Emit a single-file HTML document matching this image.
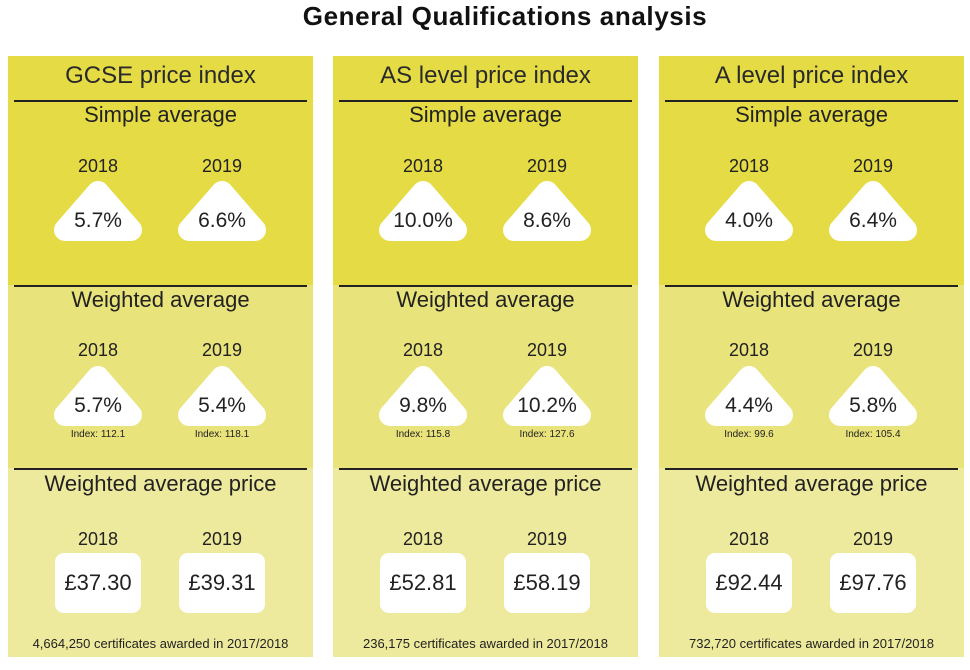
<!DOCTYPE html>
<html><head><meta charset="utf-8">
<style>
body{margin:0;width:970px;height:670px;background:#fff;font-family:"Liberation Sans",sans-serif;color:#222;position:relative;overflow:hidden}
.t{position:absolute;white-space:nowrap;text-align:center}
</style></head>
<body>
<div class="t" style="left:0;width:1010px;top:1px;font-size:26px;font-weight:bold;color:#111;letter-spacing:0.6px">General Qualifications analysis</div>
<div id="root"></div>
<script>
const panelTitles=["GCSE price index","AS level price index","A level price index"];
const simple2018=["5.7%","10.0%","4.0%"];
const simple2019=["6.6%","8.6%","6.4%"];
const weighted2018=["5.7%","9.8%","4.4%"];
const weighted2019=["5.4%","10.2%","5.8%"];
const index2018=["Index: 112.1","Index: 115.8","Index: 99.6"];
const index2019=["Index: 118.1","Index: 127.6","Index: 105.4"];
const price2018=["£37.30","£52.81","£92.44"];
const price2019=["£39.31","£58.19","£97.76"];
const certs=["4,664,250 certificates awarded in 2017/2018","236,175 certificates awarded in 2017/2018","732,720 certificates awarded in 2017/2018"];
const years=["2018","2019"];

const root=document.getElementById('root');
function add(parent,html,style,name){
  const d=document.createElement('div');
  d.className='t';d.style.cssText=style;d.innerHTML=html;
  
  
  parent.appendChild(d);return d;
}
const lefts=[8,333,659];
panelTitles.forEach((title,i)=>{
  const p=document.createElement('div');
  
  
  p.style.cssText=`position:absolute;left:${lefts[i]}px;top:56px;width:305px;height:601px`;
  root.appendChild(p);
  add(p,'','left:0;top:0;width:305px;height:229px;background:#e5dc45','section-simple-bg');
  add(p,'','left:0;top:229px;width:305px;height:183px;background:#e9e37b','section-weighted-bg');
  add(p,'','left:0;top:412px;width:305px;height:189px;background:#eeea9d','section-price-bg');
  add(p,title,'left:0;width:305px;top:6px;font-size:24px;color:#2a2a2a','panel-title');
  [44,229,412].forEach(y=>add(p,'',`left:6px;top:${y}px;width:293px;height:2px;background:#222`,'divider'));
  add(p,'Simple average','left:0;width:305px;top:46px;font-size:22px','simple-average-label');
  add(p,'Weighted average','left:0;width:305px;top:231px;font-size:22px','weighted-average-label');
  add(p,'Weighted average price','left:0;width:305px;top:415px;font-size:22px','weighted-price-label');
  const cx=[90,214];
  function tri(x,top,val,idx){
    const w=document.createElement('div');
    
    
    w.style.cssText=`position:absolute;left:${x-44}px;top:${top}px;width:88px;height:62px`;
    w.innerHTML='<svg width="88" height="62"><polygon points="44,12 11,50 77,50" fill="#fff" stroke="#fff" stroke-width="22" stroke-linejoin="round"/></svg>';
    p.appendChild(w);
    add(p,val,`left:${x-50}px;width:100px;top:${top+29}px;font-size:21px;color:#222`,'badge-value');
    if(idx) add(p,idx,`left:${x-50}px;width:100px;top:${top+64}px;font-size:10px;color:#222`,'index-label');
  }
  [0,1].forEach(k=>{
    const x=cx[k];
    add(p,years[k],`left:${x-40}px;width:80px;top:100px;font-size:18px`,'year-label');
    tri(x,124,k?simple2019[i]:simple2018[i]);
    add(p,years[k],`left:${x-40}px;width:80px;top:284px;font-size:18px`,'year-label');
    tri(x,309,k?weighted2019[i]:weighted2018[i],k?index2019[i]:index2018[i]);
    add(p,years[k],`left:${x-40}px;width:80px;top:473px;font-size:18px`,'year-label');
    add(p,k?price2019[i]:price2018[i],`left:${x-43}px;width:86px;top:497px;height:60px;line-height:60px;background:#fff;border-radius:9px;font-size:22px`,'price-box');
  });
  add(p,certs[i],'left:0;width:305px;top:580px;font-size:13px','certificates-note');
});
</script>
</body></html>
